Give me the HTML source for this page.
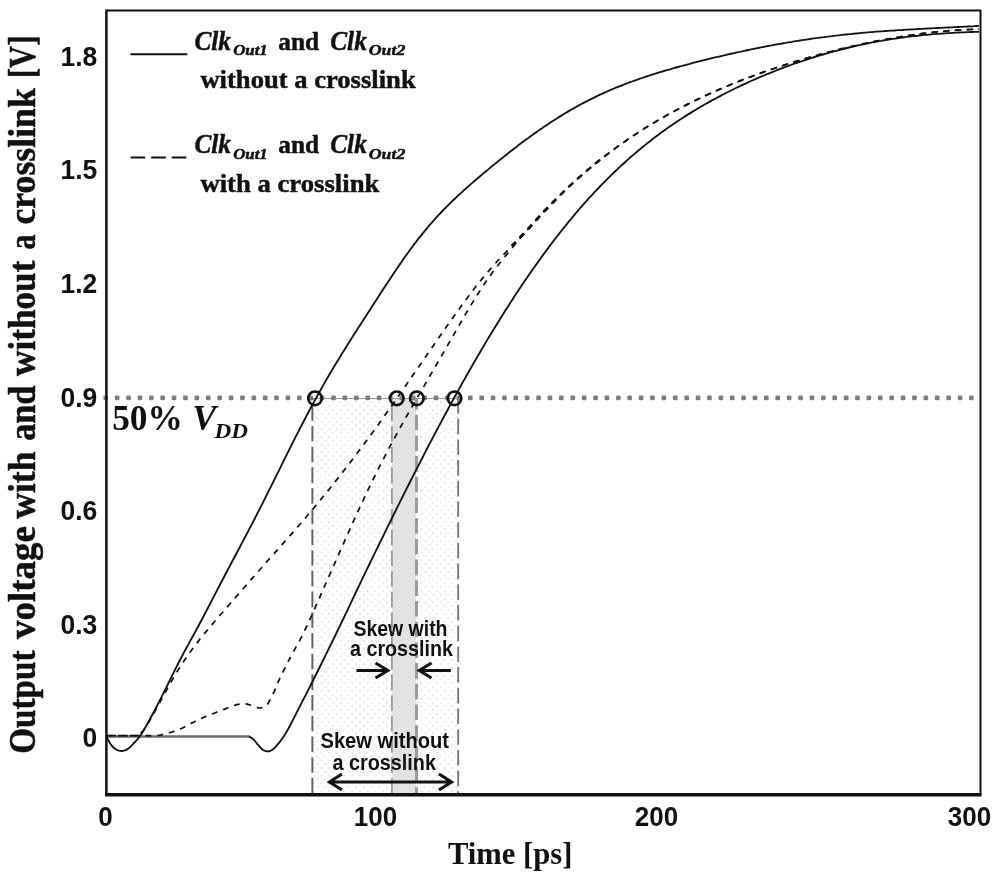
<!DOCTYPE html>
<html lang="en">
<head>
<meta charset="utf-8">
<title>Output voltage with and without a crosslink</title>
<style>
html,body{margin:0;padding:0;background:#fff;}
body{width:1000px;height:879px;overflow:hidden;}
svg{display:block;}
.sans{font-family:"Liberation Sans",Arial,sans-serif;font-weight:bold;}
.serif{font-family:"Liberation Serif","Times New Roman",serif;font-weight:bold;}
.it{font-style:italic;}
</style>
</head>
<body>
<svg width="1000" height="879" viewBox="0 0 1000 879">
<defs>
<pattern id="lt" width="7.7" height="7.7" patternUnits="userSpaceOnUse"><rect width="7.7" height="7.7" fill="#fefefe"/><circle cx="1.9" cy="1.9" r="1.2" fill="#e9e9e9"/><circle cx="5.75" cy="5.75" r="1.2" fill="#e9e9e9"/></pattern>
<pattern id="dk" width="4" height="4" patternUnits="userSpaceOnUse"><rect width="4" height="4" fill="#e6e6e6"/><circle cx="1" cy="1" r="0.8" fill="#d8d8d8"/><circle cx="3" cy="3" r="0.8" fill="#d8d8d8"/></pattern>
</defs>
<rect width="1000" height="879" fill="#fff"/>

<!-- shaded skew regions -->
<rect x="312" y="398" width="146" height="396" fill="url(#lt)"/>
<rect x="392" y="398" width="24" height="396" fill="url(#dk)"/>
<line x1="312" y1="398.5" x2="458" y2="398.5" stroke="#9a9a9a" stroke-width="1"/>

<!-- 50% VDD dotted line -->
<g fill="#7e7e7e"><rect x="103.4" y="395.5" width="4.7" height="4.8" rx="1.3"/><rect x="114.8" y="395.5" width="4.7" height="4.8" rx="1.3"/><rect x="126.2" y="395.5" width="4.7" height="4.8" rx="1.3"/><rect x="137.6" y="395.5" width="4.7" height="4.8" rx="1.3"/><rect x="149.0" y="395.5" width="4.7" height="4.8" rx="1.3"/><rect x="160.3" y="395.5" width="4.7" height="4.8" rx="1.3"/><rect x="171.7" y="395.5" width="4.7" height="4.8" rx="1.3"/><rect x="183.1" y="395.5" width="4.7" height="4.8" rx="1.3"/><rect x="194.5" y="395.5" width="4.7" height="4.8" rx="1.3"/><rect x="205.9" y="395.5" width="4.7" height="4.8" rx="1.3"/><rect x="217.3" y="395.5" width="4.7" height="4.8" rx="1.3"/><rect x="228.7" y="395.5" width="4.7" height="4.8" rx="1.3"/><rect x="240.1" y="395.5" width="4.7" height="4.8" rx="1.3"/><rect x="251.5" y="395.5" width="4.7" height="4.8" rx="1.3"/><rect x="262.9" y="395.5" width="4.7" height="4.8" rx="1.3"/><rect x="274.2" y="395.5" width="4.7" height="4.8" rx="1.3"/><rect x="285.6" y="395.5" width="4.7" height="4.8" rx="1.3"/><rect x="297.0" y="395.5" width="4.7" height="4.8" rx="1.3"/><rect x="308.4" y="395.5" width="4.7" height="4.8" rx="1.3"/><rect x="319.8" y="395.5" width="4.7" height="4.8" rx="1.3"/><rect x="331.2" y="395.5" width="4.7" height="4.8" rx="1.3"/><rect x="342.6" y="395.5" width="4.7" height="4.8" rx="1.3"/><rect x="354.0" y="395.5" width="4.7" height="4.8" rx="1.3"/><rect x="365.4" y="395.5" width="4.7" height="4.8" rx="1.3"/><rect x="376.8" y="395.5" width="4.7" height="4.8" rx="1.3"/><rect x="388.1" y="395.5" width="4.7" height="4.8" rx="1.3"/><rect x="399.5" y="395.5" width="4.7" height="4.8" rx="1.3"/><rect x="410.9" y="395.5" width="4.7" height="4.8" rx="1.3"/><rect x="422.3" y="395.5" width="4.7" height="4.8" rx="1.3"/><rect x="433.7" y="395.5" width="4.7" height="4.8" rx="1.3"/><rect x="445.1" y="395.5" width="4.7" height="4.8" rx="1.3"/><rect x="456.5" y="395.5" width="4.7" height="4.8" rx="1.3"/><rect x="467.9" y="395.5" width="4.7" height="4.8" rx="1.3"/><rect x="479.3" y="395.5" width="4.7" height="4.8" rx="1.3"/><rect x="490.7" y="395.5" width="4.7" height="4.8" rx="1.3"/><rect x="502.1" y="395.5" width="4.7" height="4.8" rx="1.3"/><rect x="513.4" y="395.5" width="4.7" height="4.8" rx="1.3"/><rect x="524.8" y="395.5" width="4.7" height="4.8" rx="1.3"/><rect x="536.2" y="395.5" width="4.7" height="4.8" rx="1.3"/><rect x="547.6" y="395.5" width="4.7" height="4.8" rx="1.3"/><rect x="559.0" y="395.5" width="4.7" height="4.8" rx="1.3"/><rect x="570.4" y="395.5" width="4.7" height="4.8" rx="1.3"/><rect x="581.8" y="395.5" width="4.7" height="4.8" rx="1.3"/><rect x="593.2" y="395.5" width="4.7" height="4.8" rx="1.3"/><rect x="604.6" y="395.5" width="4.7" height="4.8" rx="1.3"/><rect x="616.0" y="395.5" width="4.7" height="4.8" rx="1.3"/><rect x="627.3" y="395.5" width="4.7" height="4.8" rx="1.3"/><rect x="638.7" y="395.5" width="4.7" height="4.8" rx="1.3"/><rect x="650.1" y="395.5" width="4.7" height="4.8" rx="1.3"/><rect x="661.5" y="395.5" width="4.7" height="4.8" rx="1.3"/><rect x="672.9" y="395.5" width="4.7" height="4.8" rx="1.3"/><rect x="684.3" y="395.5" width="4.7" height="4.8" rx="1.3"/><rect x="695.7" y="395.5" width="4.7" height="4.8" rx="1.3"/><rect x="707.1" y="395.5" width="4.7" height="4.8" rx="1.3"/><rect x="718.5" y="395.5" width="4.7" height="4.8" rx="1.3"/><rect x="729.9" y="395.5" width="4.7" height="4.8" rx="1.3"/><rect x="741.2" y="395.5" width="4.7" height="4.8" rx="1.3"/><rect x="752.6" y="395.5" width="4.7" height="4.8" rx="1.3"/><rect x="764.0" y="395.5" width="4.7" height="4.8" rx="1.3"/><rect x="775.4" y="395.5" width="4.7" height="4.8" rx="1.3"/><rect x="786.8" y="395.5" width="4.7" height="4.8" rx="1.3"/><rect x="798.2" y="395.5" width="4.7" height="4.8" rx="1.3"/><rect x="809.6" y="395.5" width="4.7" height="4.8" rx="1.3"/><rect x="821.0" y="395.5" width="4.7" height="4.8" rx="1.3"/><rect x="832.4" y="395.5" width="4.7" height="4.8" rx="1.3"/><rect x="843.8" y="395.5" width="4.7" height="4.8" rx="1.3"/><rect x="855.1" y="395.5" width="4.7" height="4.8" rx="1.3"/><rect x="866.5" y="395.5" width="4.7" height="4.8" rx="1.3"/><rect x="877.9" y="395.5" width="4.7" height="4.8" rx="1.3"/><rect x="889.3" y="395.5" width="4.7" height="4.8" rx="1.3"/><rect x="900.7" y="395.5" width="4.7" height="4.8" rx="1.3"/><rect x="912.1" y="395.5" width="4.7" height="4.8" rx="1.3"/><rect x="923.5" y="395.5" width="4.7" height="4.8" rx="1.3"/><rect x="934.9" y="395.5" width="4.7" height="4.8" rx="1.3"/><rect x="946.3" y="395.5" width="4.7" height="4.8" rx="1.3"/><rect x="957.7" y="395.5" width="4.7" height="4.8" rx="1.3"/><rect x="969.0" y="395.5" width="4.7" height="4.8" rx="1.3"/></g>

<!-- vertical guide lines -->
<g stroke="#777" fill="none" stroke-dasharray="15.6 5.1">
<line x1="312.35" y1="398" x2="312.35" y2="794" stroke-width="1.9" stroke="#606060" stroke-dashoffset="13.45"/>
<line x1="391.9" y1="398" x2="391.9" y2="794" stroke-width="1.8" stroke="#999" stroke-dashoffset="13.2"/>
<line x1="416.5" y1="398" x2="416.5" y2="794" stroke-width="2.9" stroke="#999" stroke-dashoffset="4"/>
<line x1="458.2" y1="398" x2="458.2" y2="794" stroke-width="1.9" stroke="#777" stroke-dashoffset="0"/>
</g>

<!-- curves -->
<line x1="106" y1="736.5" x2="250" y2="736.5" stroke="#6a6a6a" stroke-width="2.6"/>
<g fill="none" stroke="#111" stroke-width="1.85" stroke-linejoin="round">
<path d="M106.0,736.5 L108.0,739.6 L110.0,743.2 L112.0,746.0 L114.0,748.0 L116.0,749.5 L118.0,750.3 L120.0,750.8 L122.0,751.0 L124.0,750.7 L126.0,749.9 L128.0,748.9 L130.0,747.2 L132.0,745.1 L134.0,743.0 L136.0,740.9 L138.0,738.6 L140.0,736.0 L142.0,733.1 L144.0,729.8 L146.0,726.3 L148.0,722.6 L150.0,719.0 L152.0,715.3 L154.0,711.6 L156.0,707.8 L158.0,703.9 L160.0,700.0 L162.0,696.1 L164.0,692.1 L166.0,688.1 L168.0,684.0 L170.0,679.9 L172.0,675.9 L174.0,671.8 L176.0,667.8 L178.0,663.9 L180.0,660.0 L182.0,656.2 L184.0,652.4 L186.0,648.7 L188.0,645.1 L190.0,641.4 L192.0,637.8 L194.0,634.1 L196.0,630.4 L198.0,626.7 L200.0,623.0 L202.0,619.2 L204.0,615.4 L206.0,611.6 L208.0,607.8 L210.0,603.9 L212.0,600.1 L214.0,596.2 L216.0,592.3 L218.0,588.5 L220.0,584.6 L222.0,580.8 L224.0,577.0 L226.0,573.2 L228.0,569.4 L230.0,565.6 L232.0,561.8 L234.0,558.0 L236.0,554.2 L238.0,550.5 L240.0,546.7 L242.0,542.9 L244.0,539.2 L246.0,535.4 L248.0,531.6 L250.0,527.7 L252.0,523.9 L254.0,520.0 L256.0,516.1 L258.0,512.2 L260.0,508.3 L262.0,504.3 L264.0,500.4 L266.0,496.4 L268.0,492.4 L270.0,488.4 L272.0,484.4 L274.0,480.4 L276.0,476.3 L278.0,472.3 L280.0,468.3 L282.0,464.2 L284.0,460.2 L286.0,456.2 L288.0,452.1 L290.0,448.1 L292.0,444.1 L294.0,440.2 L296.0,436.2 L298.0,432.3 L300.0,428.4 L302.0,424.5 L304.0,420.7 L306.0,416.8 L308.0,413.0 L310.0,409.3 L312.0,405.5 L314.0,401.9 L316.0,398.2 L318.0,394.6 L320.0,391.0 L322.0,387.4 L324.0,383.9 L326.0,380.4 L328.0,377.0 L330.0,373.5 L332.0,370.1 L334.0,366.8 L336.0,363.5 L338.0,360.2 L340.0,356.9 L342.0,353.6 L344.0,350.4 L346.0,347.2 L348.0,344.0 L350.0,340.9 L352.0,337.7 L354.0,334.6 L356.0,331.4 L358.0,328.3 L360.0,325.2 L362.0,322.1 L364.0,319.0 L366.0,315.9 L368.0,312.8 L370.0,309.7 L372.0,306.6 L374.0,303.5 L376.0,300.4 L378.0,297.3 L380.0,294.2 L382.0,291.1 L384.0,288.1 L386.0,285.0 L388.0,281.9 L390.0,278.9 L392.0,275.9 L394.0,272.9 L396.0,269.9 L398.0,267.0 L400.0,264.1 L402.0,261.2 L404.0,258.3 L406.0,255.5 L408.0,252.7 L410.0,250.0 L412.0,247.2 L414.0,244.6 L416.0,241.9 L418.0,239.3 L420.0,236.8 L422.0,234.3 L424.0,231.8 L426.0,229.4 L428.0,227.0 L430.0,224.7 L432.0,222.4 L434.0,220.1 L436.0,217.9 L438.0,215.7 L440.0,213.6 L442.0,211.5 L444.0,209.4 L446.0,207.4 L448.0,205.4 L450.0,203.4 L452.0,201.4 L454.0,199.5 L456.0,197.6 L458.0,195.7 L460.0,193.9 L462.0,192.1 L464.0,190.2 L466.0,188.4 L468.0,186.7 L470.0,184.9 L472.0,183.1 L474.0,181.4 L476.0,179.7 L478.0,178.0 L480.0,176.3 L482.0,174.6 L484.0,172.9 L486.0,171.2 L488.0,169.6 L490.0,167.9 L492.0,166.3 L494.0,164.6 L496.0,163.0 L498.0,161.4 L500.0,159.8 L502.0,158.2 L504.0,156.6 L506.0,155.0 L508.0,153.4 L510.0,151.8 L512.0,150.3 L514.0,148.7 L516.0,147.2 L518.0,145.6 L520.0,144.1 L522.0,142.6 L524.0,141.1 L526.0,139.6 L528.0,138.2 L530.0,136.7 L532.0,135.2 L534.0,133.8 L536.0,132.4 L538.0,131.0 L540.0,129.6 L542.0,128.2 L544.0,126.8 L546.0,125.5 L548.0,124.2 L550.0,122.8 L552.0,121.5 L554.0,120.2 L556.0,119.0 L558.0,117.7 L560.0,116.4 L562.0,115.2 L564.0,114.0 L566.0,112.8 L568.0,111.6 L570.0,110.4 L572.0,109.3 L574.0,108.1 L576.0,107.0 L578.0,105.9 L580.0,104.8 L582.0,103.7 L584.0,102.7 L586.0,101.6 L588.0,100.6 L590.0,99.6 L592.0,98.6 L594.0,97.6 L596.0,96.6 L598.0,95.7 L600.0,94.7 L602.0,93.8 L604.0,92.9 L606.0,92.0 L608.0,91.1 L610.0,90.2 L612.0,89.4 L614.0,88.5 L616.0,87.7 L618.0,86.9 L620.0,86.1 L622.0,85.3 L624.0,84.5 L626.0,83.7 L628.0,83.0 L630.0,82.2 L632.0,81.5 L634.0,80.8 L636.0,80.1 L638.0,79.4 L640.0,78.7 L642.0,78.0 L644.0,77.3 L646.0,76.6 L648.0,76.0 L650.0,75.3 L652.0,74.7 L654.0,74.1 L656.0,73.4 L658.0,72.8 L660.0,72.2 L662.0,71.6 L664.0,71.0 L666.0,70.4 L668.0,69.8 L670.0,69.3 L672.0,68.7 L674.0,68.1 L676.0,67.5 L678.0,67.0 L680.0,66.4 L682.0,65.9 L684.0,65.3 L686.0,64.8 L688.0,64.3 L690.0,63.8 L692.0,63.2 L694.0,62.7 L696.0,62.2 L698.0,61.7 L700.0,61.2 L702.0,60.7 L704.0,60.2 L706.0,59.7 L708.0,59.2 L710.0,58.7 L712.0,58.2 L714.0,57.7 L716.0,57.2 L718.0,56.8 L720.0,56.3 L722.0,55.8 L724.0,55.4 L726.0,54.9 L728.0,54.4 L730.0,54.0 L732.0,53.5 L734.0,53.1 L736.0,52.6 L738.0,52.2 L740.0,51.8 L742.0,51.3 L744.0,50.9 L746.0,50.5 L748.0,50.0 L750.0,49.6 L752.0,49.2 L754.0,48.8 L756.0,48.4 L758.0,48.0 L760.0,47.6 L762.0,47.2 L764.0,46.8 L766.0,46.4 L768.0,46.0 L770.0,45.6 L772.0,45.3 L774.0,44.9 L776.0,44.5 L778.0,44.2 L780.0,43.8 L782.0,43.5 L784.0,43.1 L786.0,42.8 L788.0,42.4 L790.0,42.1 L792.0,41.8 L794.0,41.4 L796.0,41.1 L798.0,40.8 L800.0,40.5 L802.0,40.2 L804.0,39.9 L806.0,39.6 L808.0,39.3 L810.0,39.0 L812.0,38.7 L814.0,38.4 L816.0,38.1 L818.0,37.9 L820.0,37.6 L822.0,37.3 L824.0,37.1 L826.0,36.8 L828.0,36.6 L830.0,36.3 L832.0,36.1 L834.0,35.8 L836.0,35.6 L838.0,35.4 L840.0,35.1 L842.0,34.9 L844.0,34.7 L846.0,34.5 L848.0,34.3 L850.0,34.1 L852.0,33.9 L854.0,33.7 L856.0,33.5 L858.0,33.3 L860.0,33.1 L862.0,32.9 L864.0,32.7 L866.0,32.6 L868.0,32.4 L870.0,32.2 L872.0,32.1 L874.0,31.9 L876.0,31.7 L878.0,31.6 L880.0,31.4 L882.0,31.3 L884.0,31.1 L886.0,31.0 L888.0,30.9 L890.0,30.7 L892.0,30.6 L894.0,30.5 L896.0,30.3 L898.0,30.2 L900.0,30.1 L902.0,30.0 L904.0,29.8 L906.0,29.7 L908.0,29.6 L910.0,29.5 L912.0,29.4 L914.0,29.3 L916.0,29.2 L918.0,29.0 L920.0,28.9 L922.0,28.8 L924.0,28.7 L926.0,28.6 L928.0,28.5 L930.0,28.4 L932.0,28.3 L934.0,28.2 L936.0,28.1 L938.0,28.0 L940.0,27.9 L942.0,27.8 L944.0,27.7 L946.0,27.6 L948.0,27.5 L950.0,27.4 L952.0,27.3 L954.0,27.2 L956.0,27.1 L958.0,27.0 L960.0,26.9 L962.0,26.8 L964.0,26.7 L966.0,26.6 L968.0,26.5 L970.0,26.4 L972.0,26.3 L974.0,26.2 L976.0,26.0 L978.0,25.9 L979.0,25.9"/>
<path d="M249.0,736.5 L251.0,737.6 L253.0,739.1 L255.0,741.0 L257.0,743.6 L259.0,746.0 L261.0,748.1 L263.0,750.0 L265.0,750.9 L267.0,751.4 L269.0,751.4 L271.0,750.5 L273.0,749.3 L275.0,747.5 L277.0,745.2 L279.0,742.8 L281.0,740.3 L283.0,737.5 L285.0,734.4 L287.0,731.1 L289.0,727.5 L291.0,723.8 L293.0,719.9 L295.0,715.9 L297.0,711.9 L299.0,707.9 L301.0,704.1 L303.0,700.2 L305.0,696.3 L307.0,692.4 L309.0,688.4 L311.0,684.5 L313.0,680.5 L315.0,676.5 L317.0,672.5 L319.0,668.5 L321.0,664.5 L323.0,660.4 L325.0,656.4 L327.0,652.3 L329.0,648.2 L331.0,644.2 L333.0,640.1 L335.0,636.0 L337.0,631.9 L339.0,627.8 L341.0,623.6 L343.0,619.5 L345.0,615.3 L347.0,611.1 L349.0,606.9 L351.0,602.7 L353.0,598.4 L355.0,594.2 L357.0,590.0 L359.0,585.8 L361.0,581.6 L363.0,577.4 L365.0,573.3 L367.0,569.1 L369.0,565.0 L371.0,560.9 L373.0,556.8 L375.0,552.7 L377.0,548.6 L379.0,544.5 L381.0,540.4 L383.0,536.3 L385.0,532.2 L387.0,528.2 L389.0,524.1 L391.0,520.0 L393.0,516.0 L395.0,512.0 L397.0,507.9 L399.0,503.9 L401.0,499.9 L403.0,495.9 L405.0,491.9 L407.0,487.9 L409.0,484.0 L411.0,480.0 L413.0,476.1 L415.0,472.1 L417.0,468.2 L419.0,464.3 L421.0,460.4 L423.0,456.5 L425.0,452.6 L427.0,448.8 L429.0,444.9 L431.0,441.1 L433.0,437.3 L435.0,433.5 L437.0,429.7 L439.0,425.9 L441.0,422.2 L443.0,418.4 L445.0,414.7 L447.0,411.0 L449.0,407.3 L451.0,403.6 L453.0,400.0 L455.0,396.3 L457.0,392.7 L459.0,389.1 L461.0,385.5 L463.0,381.9 L465.0,378.4 L467.0,374.8 L469.0,371.3 L471.0,367.8 L473.0,364.3 L475.0,360.8 L477.0,357.4 L479.0,354.0 L481.0,350.5 L483.0,347.1 L485.0,343.8 L487.0,340.4 L489.0,337.1 L491.0,333.8 L493.0,330.5 L495.0,327.2 L497.0,324.0 L499.0,320.7 L501.0,317.5 L503.0,314.3 L505.0,311.1 L507.0,308.0 L509.0,304.9 L511.0,301.8 L513.0,298.7 L515.0,295.6 L517.0,292.6 L519.0,289.6 L521.0,286.6 L523.0,283.6 L525.0,280.6 L527.0,277.7 L529.0,274.8 L531.0,271.9 L533.0,269.0 L535.0,266.2 L537.0,263.4 L539.0,260.6 L541.0,257.8 L543.0,255.1 L545.0,252.3 L547.0,249.6 L549.0,246.9 L551.0,244.3 L553.0,241.6 L555.0,239.0 L557.0,236.5 L559.0,233.9 L561.0,231.3 L563.0,228.8 L565.0,226.3 L567.0,223.9 L569.0,221.4 L571.0,219.0 L573.0,216.6 L575.0,214.2 L577.0,211.9 L579.0,209.5 L581.0,207.2 L583.0,204.9 L585.0,202.7 L587.0,200.4 L589.0,198.2 L591.0,196.0 L593.0,193.9 L595.0,191.7 L597.0,189.6 L599.0,187.5 L601.0,185.4 L603.0,183.4 L605.0,181.3 L607.0,179.3 L609.0,177.3 L611.0,175.4 L613.0,173.4 L615.0,171.5 L617.0,169.6 L619.0,167.7 L621.0,165.8 L623.0,164.0 L625.0,162.2 L627.0,160.4 L629.0,158.6 L631.0,156.8 L633.0,155.1 L635.0,153.4 L637.0,151.7 L639.0,150.0 L641.0,148.4 L643.0,146.7 L645.0,145.1 L647.0,143.5 L649.0,141.9 L651.0,140.4 L653.0,138.8 L655.0,137.3 L657.0,135.8 L659.0,134.3 L661.0,132.8 L663.0,131.3 L665.0,129.9 L667.0,128.5 L669.0,127.1 L671.0,125.7 L673.0,124.3 L675.0,123.0 L677.0,121.6 L679.0,120.3 L681.0,119.0 L683.0,117.7 L685.0,116.4 L687.0,115.1 L689.0,113.9 L691.0,112.6 L693.0,111.4 L695.0,110.2 L697.0,109.0 L699.0,107.8 L701.0,106.6 L703.0,105.5 L705.0,104.3 L707.0,103.2 L709.0,102.1 L711.0,100.9 L713.0,99.8 L715.0,98.8 L717.0,97.7 L719.0,96.6 L721.0,95.6 L723.0,94.5 L725.0,93.5 L727.0,92.5 L729.0,91.5 L731.0,90.5 L733.0,89.5 L735.0,88.5 L737.0,87.5 L739.0,86.6 L741.0,85.6 L743.0,84.7 L745.0,83.8 L747.0,82.9 L749.0,81.9 L751.0,81.0 L753.0,80.2 L755.0,79.3 L757.0,78.4 L759.0,77.5 L761.0,76.7 L763.0,75.9 L765.0,75.0 L767.0,74.2 L769.0,73.4 L771.0,72.6 L773.0,71.8 L775.0,71.0 L777.0,70.2 L779.0,69.4 L781.0,68.7 L783.0,67.9 L785.0,67.2 L787.0,66.4 L789.0,65.7 L791.0,65.0 L793.0,64.2 L795.0,63.5 L797.0,62.8 L799.0,62.1 L801.0,61.5 L803.0,60.8 L805.0,60.1 L807.0,59.5 L809.0,58.8 L811.0,58.2 L813.0,57.5 L815.0,56.9 L817.0,56.3 L819.0,55.7 L821.0,55.1 L823.0,54.5 L825.0,53.9 L827.0,53.3 L829.0,52.7 L831.0,52.2 L833.0,51.6 L835.0,51.1 L837.0,50.6 L839.0,50.0 L841.0,49.5 L843.0,49.0 L845.0,48.5 L847.0,48.0 L849.0,47.5 L851.0,47.0 L853.0,46.6 L855.0,46.1 L857.0,45.7 L859.0,45.2 L861.0,44.8 L863.0,44.3 L865.0,43.9 L867.0,43.5 L869.0,43.1 L871.0,42.7 L873.0,42.3 L875.0,41.9 L877.0,41.6 L879.0,41.2 L881.0,40.9 L883.0,40.5 L885.0,40.2 L887.0,39.8 L889.0,39.5 L891.0,39.2 L893.0,38.9 L895.0,38.6 L897.0,38.3 L899.0,38.0 L901.0,37.7 L903.0,37.5 L905.0,37.2 L907.0,36.9 L909.0,36.7 L911.0,36.4 L913.0,36.2 L915.0,36.0 L917.0,35.8 L919.0,35.5 L921.0,35.3 L923.0,35.1 L925.0,34.9 L927.0,34.8 L929.0,34.6 L931.0,34.4 L933.0,34.2 L935.0,34.1 L937.0,33.9 L939.0,33.8 L941.0,33.6 L943.0,33.5 L945.0,33.3 L947.0,33.2 L949.0,33.1 L951.0,33.0 L953.0,32.8 L955.0,32.7 L957.0,32.6 L959.0,32.5 L961.0,32.4 L963.0,32.4 L965.0,32.3 L967.0,32.2 L969.0,32.1 L971.0,32.0 L973.0,32.0 L975.0,31.9 L977.0,31.8 L979.0,31.8"/>
<path d="M106.0,735.5 L108.0,735.5 L110.0,735.5 L112.0,735.5 L114.0,735.5 L116.0,735.5 L118.0,735.5 L120.0,735.5 L122.0,735.5 L124.0,735.5 L126.0,735.5 L128.0,735.5 L130.0,735.5 L132.0,735.5 L134.0,735.5 L136.0,735.5 L138.0,735.0 L140.0,733.6 L142.0,732.0 L144.0,729.8 L146.0,726.8 L148.0,723.4 L150.0,720.0 L152.0,716.6 L154.0,713.0 L156.0,709.3 L158.0,705.6 L160.0,702.0 L162.0,698.4 L164.0,694.8 L166.0,691.2 L168.0,687.5 L170.0,683.9 L172.0,680.4 L174.0,676.9 L176.0,673.5 L178.0,670.2 L180.0,667.0 L182.0,663.9 L184.0,660.9 L186.0,658.0 L188.0,655.1 L190.0,652.3 L192.0,649.6 L194.0,646.9 L196.0,644.2 L198.0,641.6 L200.0,639.0 L202.0,636.5 L204.0,634.0 L206.0,631.6 L208.0,629.3 L210.0,627.0 L212.0,624.6 L214.0,622.3 L216.0,620.0 L218.0,617.7 L220.0,615.3 L222.0,613.0 L224.0,610.7 L226.0,608.4 L228.0,606.1 L230.0,603.8 L232.0,601.5 L234.0,599.2 L236.0,596.9 L238.0,594.6 L240.0,592.3 L242.0,590.0 L244.0,587.7 L246.0,585.4 L248.0,583.2 L250.0,580.9 L252.0,578.6 L254.0,576.3 L256.0,574.0 L258.0,571.7 L260.0,569.5 L262.0,567.2 L264.0,564.9 L266.0,562.7 L268.0,560.4 L270.0,558.2 L272.0,555.9 L274.0,553.7 L276.0,551.4 L278.0,549.2 L280.0,546.9 L282.0,544.7 L284.0,542.4 L286.0,540.2 L288.0,537.9 L290.0,535.7 L292.0,533.4 L294.0,531.1 L296.0,528.8 L298.0,526.5 L300.0,524.2 L302.0,521.8 L304.0,519.5 L306.0,517.2 L308.0,514.8 L310.0,512.4 L312.0,510.1 L314.0,507.7 L316.0,505.3 L318.0,502.9 L320.0,500.4 L322.0,498.0 L324.0,495.6 L326.0,493.1 L328.0,490.6 L330.0,488.2 L332.0,485.7 L334.0,483.2 L336.0,480.6 L338.0,478.1 L340.0,475.6 L342.0,473.0 L344.0,470.4 L346.0,467.9 L348.0,465.3 L350.0,462.7 L352.0,460.0 L354.0,457.4 L356.0,454.8 L358.0,452.1 L360.0,449.4 L362.0,446.8 L364.0,444.1 L366.0,441.4 L368.0,438.6 L370.0,435.9 L372.0,433.2 L374.0,430.4 L376.0,427.7 L378.0,424.9 L380.0,422.1 L382.0,419.3 L384.0,416.5 L386.0,413.7 L388.0,410.9 L390.0,408.1 L392.0,405.2 L394.0,402.4 L396.0,399.5 L398.0,396.7 L400.0,393.8 L402.0,390.9 L404.0,388.1 L406.0,385.2 L408.0,382.3 L410.0,379.4 L412.0,376.5 L414.0,373.6 L416.0,370.7 L418.0,367.8 L420.0,364.9 L422.0,362.0 L424.0,359.1 L426.0,356.2 L428.0,353.3 L430.0,350.5 L432.0,347.6 L434.0,344.7 L436.0,341.8 L438.0,338.9 L440.0,336.0 L442.0,333.2 L444.0,330.3 L446.0,327.5 L448.0,324.6 L450.0,321.8 L452.0,319.0 L454.0,316.2 L456.0,313.4 L458.0,310.6 L460.0,307.8 L462.0,305.1 L464.0,302.4 L466.0,299.7 L468.0,297.0 L470.0,294.3 L472.0,291.7 L474.0,289.0 L476.0,286.5 L478.0,283.9 L480.0,281.4 L482.0,278.9 L484.0,276.5 L486.0,274.1 L488.0,271.7 L490.0,269.4 L492.0,267.1 L494.0,264.9 L496.0,262.7 L498.0,260.5 L500.0,258.4 L502.0,256.2 L504.0,254.2 L506.0,252.1 L508.0,250.0 L510.0,248.0 L512.0,245.9 L514.0,243.9 L516.0,241.8 L518.0,239.7 L520.0,237.6 L522.0,235.5 L524.0,233.4 L526.0,231.2 L528.0,229.1 L530.0,226.9 L532.0,224.7 L534.0,222.5 L536.0,220.3 L538.0,218.1 L540.0,216.0 L542.0,213.8 L544.0,211.6 L546.0,209.5 L548.0,207.4 L550.0,205.3 L552.0,203.3 L554.0,201.2 L556.0,199.2 L558.0,197.2 L560.0,195.2 L562.0,193.3 L564.0,191.4 L566.0,189.5 L568.0,187.6 L570.0,185.7 L572.0,183.8 L574.0,182.0 L576.0,180.2 L578.0,178.4 L580.0,176.6 L582.0,174.9 L584.0,173.1 L586.0,171.4 L588.0,169.7 L590.0,168.1 L592.0,166.4 L594.0,164.7 L596.0,163.1 L598.0,161.5 L600.0,159.9 L602.0,158.3 L604.0,156.8 L606.0,155.2 L608.0,153.7 L610.0,152.2 L612.0,150.7 L614.0,149.2 L616.0,147.8 L618.0,146.3 L620.0,144.9 L622.0,143.5 L624.0,142.1 L626.0,140.7 L628.0,139.3 L630.0,138.0 L632.0,136.6 L634.0,135.3 L636.0,134.0 L638.0,132.7 L640.0,131.4 L642.0,130.1 L644.0,128.8 L646.0,127.6 L648.0,126.3 L650.0,125.1 L652.0,123.9 L654.0,122.7 L656.0,121.5 L658.0,120.3 L660.0,119.2 L662.0,118.0 L664.0,116.9 L666.0,115.8 L668.0,114.6 L670.0,113.5 L672.0,112.4 L674.0,111.4 L676.0,110.3 L678.0,109.2 L680.0,108.2 L682.0,107.1 L684.0,106.1 L686.0,105.1 L688.0,104.1 L690.0,103.1 L692.0,102.1 L694.0,101.1 L696.0,100.1 L698.0,99.1 L700.0,98.2 L702.0,97.2 L704.0,96.3 L706.0,95.4 L708.0,94.5 L710.0,93.6 L712.0,92.7 L714.0,91.8 L716.0,90.9 L718.0,90.0 L720.0,89.1 L722.0,88.3 L724.0,87.4 L726.0,86.6 L728.0,85.7 L730.0,84.9 L732.0,84.1 L734.0,83.3 L736.0,82.5 L738.0,81.7 L740.0,80.9 L742.0,80.1 L744.0,79.3 L746.0,78.5 L748.0,77.8 L750.0,77.0 L752.0,76.3 L754.0,75.5 L756.0,74.8 L758.0,74.1 L760.0,73.3 L762.0,72.6 L764.0,71.9 L766.0,71.2 L768.0,70.5 L770.0,69.8 L772.0,69.1 L774.0,68.5 L776.0,67.8 L778.0,67.1 L780.0,66.5 L782.0,65.8 L784.0,65.2 L786.0,64.5 L788.0,63.9 L790.0,63.2 L792.0,62.6 L794.0,62.0 L796.0,61.4 L798.0,60.8 L800.0,60.2 L802.0,59.6 L804.0,59.0 L806.0,58.4 L808.0,57.8 L810.0,57.2 L812.0,56.7 L814.0,56.1 L816.0,55.5 L818.0,55.0 L820.0,54.4 L822.0,53.9 L824.0,53.4 L826.0,52.8 L828.0,52.3 L830.0,51.8 L832.0,51.3 L834.0,50.7 L836.0,50.2 L838.0,49.7 L840.0,49.2 L842.0,48.7 L844.0,48.3 L846.0,47.8 L848.0,47.3 L850.0,46.8 L852.0,46.4 L854.0,45.9 L856.0,45.5 L858.0,45.0 L860.0,44.6 L862.0,44.1 L864.0,43.7 L866.0,43.3 L868.0,42.8 L870.0,42.4 L872.0,42.0 L874.0,41.6 L876.0,41.2 L878.0,40.8 L880.0,40.4 L882.0,40.0 L884.0,39.7 L886.0,39.3 L888.0,38.9 L890.0,38.6 L892.0,38.2 L894.0,37.8 L896.0,37.5 L898.0,37.2 L900.0,36.8 L902.0,36.5 L904.0,36.2 L906.0,35.9 L908.0,35.6 L910.0,35.3 L912.0,35.0 L914.0,34.7 L916.0,34.4 L918.0,34.1 L920.0,33.9 L922.0,33.6 L924.0,33.3 L926.0,33.1 L928.0,32.9 L930.0,32.6 L932.0,32.4 L934.0,32.2 L936.0,32.0 L938.0,31.8 L940.0,31.6 L942.0,31.4 L944.0,31.2 L946.0,31.0 L948.0,30.8 L950.0,30.7 L952.0,30.5 L954.0,30.4 L956.0,30.2 L958.0,30.1 L960.0,30.0 L962.0,29.9 L964.0,29.8 L966.0,29.7 L968.0,29.6 L970.0,29.5 L972.0,29.4 L974.0,29.4 L976.0,29.3 L978.0,29.3 L979.0,29.3" stroke-width="1.75" stroke-dasharray="5.8 6.0"/>
<path d="M106.0,735.5 L108.0,735.5 L110.0,735.5 L112.0,735.5 L114.0,735.5 L116.0,735.5 L118.0,735.5 L120.0,735.5 L122.0,735.5 L124.0,735.5 L126.0,735.5 L128.0,735.5 L130.0,735.5 L132.0,735.5 L134.0,735.5 L136.0,735.5 L138.0,735.5 L140.0,735.5 L142.0,735.5 L144.0,735.5 L146.0,735.5 L148.0,735.5 L150.0,735.5 L152.0,735.5 L154.0,735.5 L156.0,735.5 L158.0,735.4 L160.0,735.1 L162.0,734.7 L164.0,734.2 L166.0,733.8 L168.0,733.3 L170.0,732.7 L172.0,732.0 L174.0,731.3 L176.0,730.6 L178.0,729.8 L180.0,729.0 L182.0,728.2 L184.0,727.2 L186.0,726.2 L188.0,725.2 L190.0,724.1 L192.0,723.0 L194.0,722.0 L196.0,720.9 L198.0,719.9 L200.0,719.0 L202.0,718.1 L204.0,717.3 L206.0,716.4 L208.0,715.6 L210.0,714.8 L212.0,714.0 L214.0,713.3 L216.0,712.5 L218.0,711.7 L220.0,711.0 L222.0,710.2 L224.0,709.4 L226.0,708.6 L228.0,707.8 L230.0,707.0 L232.0,706.2 L234.0,705.5 L236.0,704.9 L238.0,704.4 L240.0,704.0 L242.0,703.7 L244.0,703.5 L246.0,703.8 L248.0,704.4 L250.0,705.0 L252.0,705.7 L254.0,706.4 L256.0,707.2 L258.0,707.8 L260.0,708.0 L262.0,707.7 L264.0,707.0 L266.0,706.0 L268.0,703.6 L270.0,700.0 L272.0,696.2 L274.0,691.8 L276.0,687.1 L278.0,682.4 L280.0,678.0 L282.0,673.9 L284.0,669.8 L286.0,665.8 L288.0,661.9 L290.0,658.0 L292.0,654.3 L294.0,650.7 L296.0,647.1 L298.0,643.5 L300.0,639.9 L302.0,636.0 L304.0,632.0 L306.0,627.8 L308.0,623.6 L310.0,619.2 L312.0,614.8 L314.0,610.3 L316.0,605.7 L318.0,601.2 L320.0,596.6 L322.0,592.1 L324.0,587.5 L326.0,583.0 L328.0,578.5 L330.0,574.0 L332.0,569.5 L334.0,565.0 L336.0,560.5 L338.0,555.9 L340.0,551.4 L342.0,546.9 L344.0,542.3 L346.0,537.8 L348.0,533.3 L350.0,528.9 L352.0,524.5 L354.0,520.0 L356.0,515.7 L358.0,511.3 L360.0,507.0 L362.0,502.7 L364.0,498.4 L366.0,494.2 L368.0,490.0 L370.0,485.9 L372.0,481.8 L374.0,477.7 L376.0,473.7 L378.0,469.7 L380.0,465.7 L382.0,461.8 L384.0,457.9 L386.0,454.0 L388.0,450.2 L390.0,446.4 L392.0,442.7 L394.0,439.0 L396.0,435.3 L398.0,431.6 L400.0,428.0 L402.0,424.4 L404.0,420.8 L406.0,417.3 L408.0,413.8 L410.0,410.3 L412.0,406.8 L414.0,403.3 L416.0,399.9 L418.0,396.4 L420.0,393.0 L422.0,389.5 L424.0,386.1 L426.0,382.7 L428.0,379.2 L430.0,375.8 L432.0,372.4 L434.0,368.9 L436.0,365.5 L438.0,362.0 L440.0,358.5 L442.0,355.1 L444.0,351.6 L446.0,348.1 L448.0,344.6 L450.0,341.1 L452.0,337.6 L454.0,334.2 L456.0,330.7 L458.0,327.2 L460.0,323.7 L462.0,320.3 L464.0,316.9 L466.0,313.4 L468.0,310.0 L470.0,306.7 L472.0,303.4 L474.0,300.1 L476.0,296.9 L478.0,293.7 L480.0,290.6 L482.0,287.5 L484.0,284.5 L486.0,281.6 L488.0,278.7 L490.0,275.9 L492.0,273.1 L494.0,270.5 L496.0,267.8 L498.0,265.2 L500.0,262.7 L502.0,260.3 L504.0,257.8 L506.0,255.4 L508.0,253.0 L510.0,250.5 L512.0,248.0 L514.0,245.5 L516.0,243.1 L518.0,240.6 L520.0,238.3 L522.0,235.9 L524.0,233.6 L526.0,231.3 L528.0,229.1 L530.0,226.9 L532.0,224.7 L534.0,222.5 L536.0,220.3 L538.0,218.1 L540.0,216.0 L542.0,213.8 L544.0,211.6 L546.0,209.5 L548.0,207.4 L550.0,205.3 L552.0,203.3 L554.0,201.2 L556.0,199.2 L558.0,197.2 L560.0,195.2 L562.0,193.3 L564.0,191.4 L566.0,189.5 L568.0,187.6 L570.0,185.7 L572.0,183.8 L574.0,182.0 L576.0,180.2 L578.0,178.4 L580.0,176.6 L582.0,174.9 L584.0,173.1 L586.0,171.4 L588.0,169.7 L590.0,168.1 L592.0,166.4 L594.0,164.7 L596.0,163.1 L598.0,161.5 L600.0,159.9 L602.0,158.3 L604.0,156.8 L606.0,155.2 L608.0,153.7 L610.0,152.2 L612.0,150.7 L614.0,149.2 L616.0,147.8 L618.0,146.3 L620.0,144.9 L622.0,143.5 L624.0,142.1 L626.0,140.7 L628.0,139.3 L630.0,138.0 L632.0,136.6 L634.0,135.3 L636.0,134.0 L638.0,132.7 L640.0,131.4 L642.0,130.1 L644.0,128.8 L646.0,127.6 L648.0,126.3 L650.0,125.1 L652.0,123.9 L654.0,122.7 L656.0,121.5 L658.0,120.3 L660.0,119.2 L662.0,118.0 L664.0,116.9 L666.0,115.8 L668.0,114.6 L670.0,113.5 L672.0,112.4 L674.0,111.4 L676.0,110.3 L678.0,109.2 L680.0,108.2 L682.0,107.1 L684.0,106.1 L686.0,105.1 L688.0,104.1 L690.0,103.1 L692.0,102.1 L694.0,101.1 L696.0,100.1 L698.0,99.1 L700.0,98.2 L702.0,97.2 L704.0,96.3 L706.0,95.4 L708.0,94.5 L710.0,93.6 L712.0,92.7 L714.0,91.8 L716.0,90.9 L718.0,90.0 L720.0,89.1 L722.0,88.3 L724.0,87.4 L726.0,86.6 L728.0,85.7 L730.0,84.9 L732.0,84.1 L734.0,83.3 L736.0,82.5 L738.0,81.7 L740.0,80.9 L742.0,80.1 L744.0,79.3 L746.0,78.5 L748.0,77.8 L750.0,77.0 L752.0,76.3 L754.0,75.5 L756.0,74.8 L758.0,74.1 L760.0,73.3 L762.0,72.6 L764.0,71.9 L766.0,71.2 L768.0,70.5 L770.0,69.8 L772.0,69.1 L774.0,68.5 L776.0,67.8 L778.0,67.1 L780.0,66.5 L782.0,65.8 L784.0,65.2 L786.0,64.5 L788.0,63.9 L790.0,63.2 L792.0,62.6 L794.0,62.0 L796.0,61.4 L798.0,60.8 L800.0,60.2 L802.0,59.6 L804.0,59.0 L806.0,58.4 L808.0,57.8 L810.0,57.2 L812.0,56.7 L814.0,56.1 L816.0,55.5 L818.0,55.0 L820.0,54.4 L822.0,53.9 L824.0,53.4 L826.0,52.8 L828.0,52.3 L830.0,51.8 L832.0,51.3 L834.0,50.7 L836.0,50.2 L838.0,49.7 L840.0,49.2 L842.0,48.7 L844.0,48.3 L846.0,47.8 L848.0,47.3 L850.0,46.8 L852.0,46.4 L854.0,45.9 L856.0,45.5 L858.0,45.0 L860.0,44.6 L862.0,44.1 L864.0,43.7 L866.0,43.3 L868.0,42.8 L870.0,42.4 L872.0,42.0 L874.0,41.6 L876.0,41.2 L878.0,40.8 L880.0,40.4 L882.0,40.0 L884.0,39.7 L886.0,39.3 L888.0,38.9 L890.0,38.6 L892.0,38.2 L894.0,37.8 L896.0,37.5 L898.0,37.2 L900.0,36.8 L902.0,36.5 L904.0,36.2 L906.0,35.9 L908.0,35.6 L910.0,35.3 L912.0,35.0 L914.0,34.7 L916.0,34.4 L918.0,34.1 L920.0,33.9 L922.0,33.6 L924.0,33.3 L926.0,33.1 L928.0,32.9 L930.0,32.6 L932.0,32.4 L934.0,32.2 L936.0,32.0 L938.0,31.8 L940.0,31.6 L942.0,31.4 L944.0,31.2 L946.0,31.0 L948.0,30.8 L950.0,30.7 L952.0,30.5 L954.0,30.4 L956.0,30.2 L958.0,30.1 L960.0,30.0 L962.0,29.9 L964.0,29.8 L966.0,29.7 L968.0,29.6 L970.0,29.5 L972.0,29.4 L974.0,29.4 L976.0,29.3 L978.0,29.3 L979.0,29.3" stroke-width="1.75" stroke-dasharray="5.8 6.0" stroke-dashoffset="7.64"/>
<path d="M508.0,250.0 L510.0,248.0 L512.0,245.9 L514.0,243.9 L516.0,241.8 L518.0,239.7 L520.0,237.6 L522.0,235.5 L524.0,233.4 L526.0,231.2 L528.0,229.1 L530.0,226.9 L532.0,224.7 L534.0,222.5 L536.0,220.3 L538.0,218.1 L540.0,216.0 L542.0,213.8 L544.0,211.6 L546.0,209.5 L548.0,207.4 L550.0,205.3 L552.0,203.3 L554.0,201.2 L556.0,199.2 L558.0,197.2 L560.0,195.2" stroke-width="2.9" stroke-dasharray="5.8 6.0" stroke-dashoffset="6.38"/>
<path d="M560.0,195.2 L562.0,193.3 L564.0,191.4 L566.0,189.5 L568.0,187.6 L570.0,185.7 L572.0,183.8 L574.0,182.0 L576.0,180.2 L578.0,178.4 L580.0,176.6 L582.0,174.9 L584.0,173.1 L586.0,171.4 L588.0,169.7 L590.0,168.1 L592.0,166.4 L594.0,164.7 L596.0,163.1 L598.0,161.5 L600.0,159.9" stroke-width="2.3" stroke-dasharray="5.8 6.0" stroke-dashoffset="11.11"/>
</g>

<!-- crossing markers -->
<g fill="none" stroke="#111" stroke-width="2.6">
<circle cx="315" cy="398.3" r="6.8"/><circle cx="396.8" cy="398.3" r="6.8"/><circle cx="416.8" cy="398.3" r="6.8"/><circle cx="454.5" cy="398.3" r="6.8"/>
</g>

<!-- frame -->
<path d="M980.5,795 V10.5 H106.4" fill="none" stroke="#111" stroke-width="2"/>
<line x1="106.4" y1="9.5" x2="106.4" y2="795" stroke="#111" stroke-width="2.5"/>
<line x1="105.15" y1="794.8" x2="981.5" y2="794.8" stroke="#111" stroke-width="3.4"/>

<!-- tick labels -->
<g class="sans" font-size="26" fill="#111"><text transform="translate(97.3,65.9) scale(1,1.06)" font-size="26.5" text-anchor="end">1.8</text><text transform="translate(97.3,179.4) scale(1,1.06)" font-size="26.5" text-anchor="end">1.5</text><text transform="translate(97.3,292.9) scale(1,1.06)" font-size="26.5" text-anchor="end">1.2</text><text transform="translate(97.3,406.9) scale(1,1.06)" font-size="26.5" text-anchor="end">0.9</text><text transform="translate(97.3,520.4) scale(1,1.06)" font-size="26.5" text-anchor="end">0.6</text><text transform="translate(97.3,633.9) scale(1,1.06)" font-size="26.5" text-anchor="end">0.3</text><text transform="translate(97.3,747.4) scale(1,1.06)" font-size="26.5" text-anchor="end">0</text><text transform="translate(105.5,826.3) scale(1,1.05)" text-anchor="middle">0</text><text transform="translate(375.5,826.3) scale(1,1.05)" text-anchor="middle">100</text><text transform="translate(656.5,826.3) scale(1,1.05)" text-anchor="middle">200</text><text transform="translate(969.5,826.3) scale(1,1.05)" text-anchor="middle">300</text></g>

<!-- axis titles -->
<text class="serif" font-size="30.5" fill="#111" x="510.2" y="863.6" text-anchor="middle" textLength="124.5" lengthAdjust="spacingAndGlyphs">Time [ps]</text>
<g class="serif" font-size="37" fill="#111" stroke="#111" stroke-width="0.5"><text transform="translate(35.2,753.8) rotate(-90)" textLength="103.4" lengthAdjust="spacingAndGlyphs">Output</text><text transform="translate(35.2,639.0) rotate(-90)" textLength="112.9" lengthAdjust="spacingAndGlyphs">voltage</text><text transform="translate(35.2,518.8) rotate(-90)" textLength="67.3" lengthAdjust="spacingAndGlyphs">with</text><text transform="translate(35.2,440.8) rotate(-90)" textLength="55.2" lengthAdjust="spacingAndGlyphs">and</text><text transform="translate(35.2,376.0) rotate(-90)" textLength="115.4" lengthAdjust="spacingAndGlyphs">without</text><text transform="translate(35.2,249.6) rotate(-90)" textLength="15.0" lengthAdjust="spacingAndGlyphs">a</text><text transform="translate(35.2,224.6) rotate(-90)" textLength="136.5" lengthAdjust="spacingAndGlyphs">crosslink</text><text transform="translate(35.2,78.1) rotate(-90)" textLength="42.5" lengthAdjust="spacingAndGlyphs">[V]</text></g>

<!-- legend -->
<line x1="130.5" y1="54.2" x2="187.3" y2="54.2" stroke="#111" stroke-width="2"/>
<line x1="130.6" y1="157.4" x2="187.3" y2="157.4" stroke="#111" stroke-width="2" stroke-dasharray="14.6 6"/>
<g class="serif" fill="#111" stroke="#111" stroke-width="0.45">
<text class="it" transform="translate(194.4,49.5) scale(1,1.06)" font-size="26.5" textLength="36.6" lengthAdjust="spacingAndGlyphs">Clk</text><text class="it" x="233.2" y="55.3" font-size="14.5" textLength="34.6" lengthAdjust="spacingAndGlyphs">Out1</text><text x="278.2" y="49.5" font-size="26" textLength="41" lengthAdjust="spacingAndGlyphs">and</text><text class="it" transform="translate(330.2,49.5) scale(1,1.06)" font-size="26.5" textLength="36.6" lengthAdjust="spacingAndGlyphs">Clk</text><text class="it" x="368.8" y="55.3" font-size="14.5" textLength="36.5" lengthAdjust="spacingAndGlyphs">Out2</text>
<text x="200.4" y="88.2" font-size="25.5" textLength="215.3" lengthAdjust="spacingAndGlyphs">without a crosslink</text>
<text class="it" transform="translate(194.4,152.7) scale(1,1.06)" font-size="26.5" textLength="36.6" lengthAdjust="spacingAndGlyphs">Clk</text><text class="it" x="233.2" y="158.5" font-size="14.5" textLength="34.6" lengthAdjust="spacingAndGlyphs">Out1</text><text x="278.2" y="152.7" font-size="26" textLength="41" lengthAdjust="spacingAndGlyphs">and</text><text class="it" transform="translate(330.2,152.7) scale(1,1.06)" font-size="26.5" textLength="36.6" lengthAdjust="spacingAndGlyphs">Clk</text><text class="it" x="368.8" y="158.5" font-size="14.5" textLength="36.5" lengthAdjust="spacingAndGlyphs">Out2</text>
<text x="200.4" y="192" font-size="25.5" textLength="179" lengthAdjust="spacingAndGlyphs">with a crosslink</text>
</g>

<!-- 50% VDD -->
<text class="serif" fill="#111" y="430.4" font-size="36"><tspan x="112.2" textLength="70.6" lengthAdjust="spacingAndGlyphs">50%</tspan><tspan class="it" x="192.2">V</tspan><tspan class="it" x="214.6" y="438.4" font-size="22" textLength="33.4" lengthAdjust="spacingAndGlyphs">DD</tspan></text>

<!-- skew annotations -->
<g class="sans" font-size="22.5" fill="#111">
<text x="353.5" y="636" textLength="94" lengthAdjust="spacingAndGlyphs">Skew with</text>
<text x="350" y="655.8" textLength="103" lengthAdjust="spacingAndGlyphs">a crosslink</text>
<text x="320.5" y="748" textLength="128.5" lengthAdjust="spacingAndGlyphs">Skew without</text>
<text x="332.5" y="769.5" textLength="103.5" lengthAdjust="spacingAndGlyphs">a crosslink</text>
</g>
<g fill="none" stroke="#111" stroke-width="3.1" stroke-linecap="butt" stroke-linejoin="miter">
<path d="M356.5,670.5 H386.5 M375.5,663 L387.8,670.5 L375.5,678"/>
<path d="M450.8,670.5 H420.5 M431.5,663 L419.3,670.5 L431.5,678"/>
<path d="M331,782 H450 M342,774 L329.5,782 L342,790 M439,774 L451.5,782 L439,790"/>
</g>
</svg>
</body>
</html>
